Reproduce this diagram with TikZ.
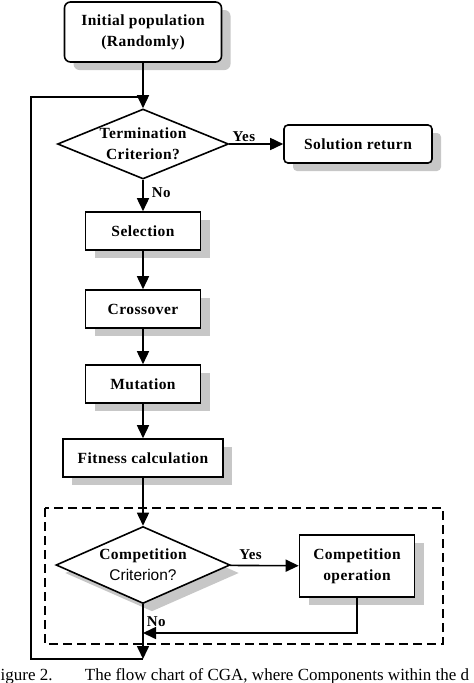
\documentclass[tikz,border=0pt]{standalone}
\usepackage{fontspec}
\setmainfont{Liberation Serif}
\newfontfamily\boxfont{Liberation Serif}[LetterSpace=3]
\newfontfamily\critfont{Liberation Sans}
\usetikzlibrary{shapes,arrows.meta,positioning,shadows,calc}

\begin{document}
\begin{tikzpicture}[x=1pt, y=-1pt,
    shade/.style={drop shadow={shadow xshift=9pt, shadow yshift=-8pt, fill=black!22, opacity=1}},
    box/.style={draw, line width=1.6pt, fill=white, align=center, inner sep=2pt,
        font=\boxfont\fontsize{15.5}{21}\selectfont\bfseries},
    decision/.style={box, diamond, aspect=2.5, inner sep=0pt},
    line/.style={line width=1.6pt},
    arr/.style={line, -{Triangle[length=13pt, width=12pt]}},
    lbl/.style={font=\boxfont\fontsize{15}{17}\selectfont\bfseries, inner sep=2pt}]
    \useasboundingbox (0,0) rectangle (474,683);
    % main column of steps
    \node[box, shade, rounded corners=6pt, minimum width=157pt, minimum height=60pt] (init) at (143,32) {Initial population\\(Randomly)};
    \node[decision, minimum width=171pt, minimum height=70pt] (term) at (143,144) {Termination\\Criterion?};
    \node[box, shade, rounded corners=4pt, minimum width=148pt, minimum height=38pt] (sol) at (358,144) {Solution return};
    \node[box, shade, minimum width=115pt, minimum height=38pt] (sel) at (143,231) {Selection};
    \node[box, shade, minimum width=115pt, minimum height=38pt] (cross) at (143,309) {Crossover};
    \node[box, shade, minimum width=115pt, minimum height=38pt] (mut) at (143,384) {Mutation};
    \node[box, shade, minimum width=160pt, minimum height=38pt] (fit) at (143,458) {Fitness calculation};
    % competition part inside the dashed frame
    \draw[line width=2pt, dash pattern=on 9pt off 5pt] (45,508) rectangle (443,644);
    \node[decision, shade, minimum width=174pt, minimum height=77pt] (comp) at (143,565) {Competition\\{\critfont\mdseries Criterion?}};
    \node[box, shade, minimum width=115pt, minimum height=62pt] (cop) at (357,566) {Competition\\operation};
    \coordinate (merge) at (143,633);
    \coordinate (join) at (143,659);
    \coordinate (back) at (31,97);
    % connectors
    \draw[arr] (init) -- (term);
    \draw[arr] (term) -- node[lbl, above, pos=0.27] {Yes} (sol);
    \draw[arr] (term) -- node[lbl, right=6pt, pos=0.4] {No} (sel);
    \draw[arr] (sel) -- (cross);
    \draw[arr] (cross) -- (mut);
    \draw[arr] (mut) -- (fit);
    \draw[arr] (fit) -- (comp);
    \draw[arr] (comp) -- node[lbl, above=3pt, pos=0.3] {Yes} (cop);
    \draw[arr] (cop.south) |- (merge);
    \draw[arr] (comp) -- node[lbl, right=1pt, pos=0.32] {No} (join);
    \draw[line] (join) -| (back) -- (term.north |- back);
    % caption, cut by the page edge
    \begin{scope}
        \clip (0,0) rectangle (474,683);
        \node[anchor=base west, inner sep=0pt, font=\fontsize{17}{19}\selectfont] (caption) at (-9,680) {Figure 2.\hspace{1.9em}The flow chart of CGA, where Components within the d};
    \end{scope}
\end{tikzpicture}
\end{document}
